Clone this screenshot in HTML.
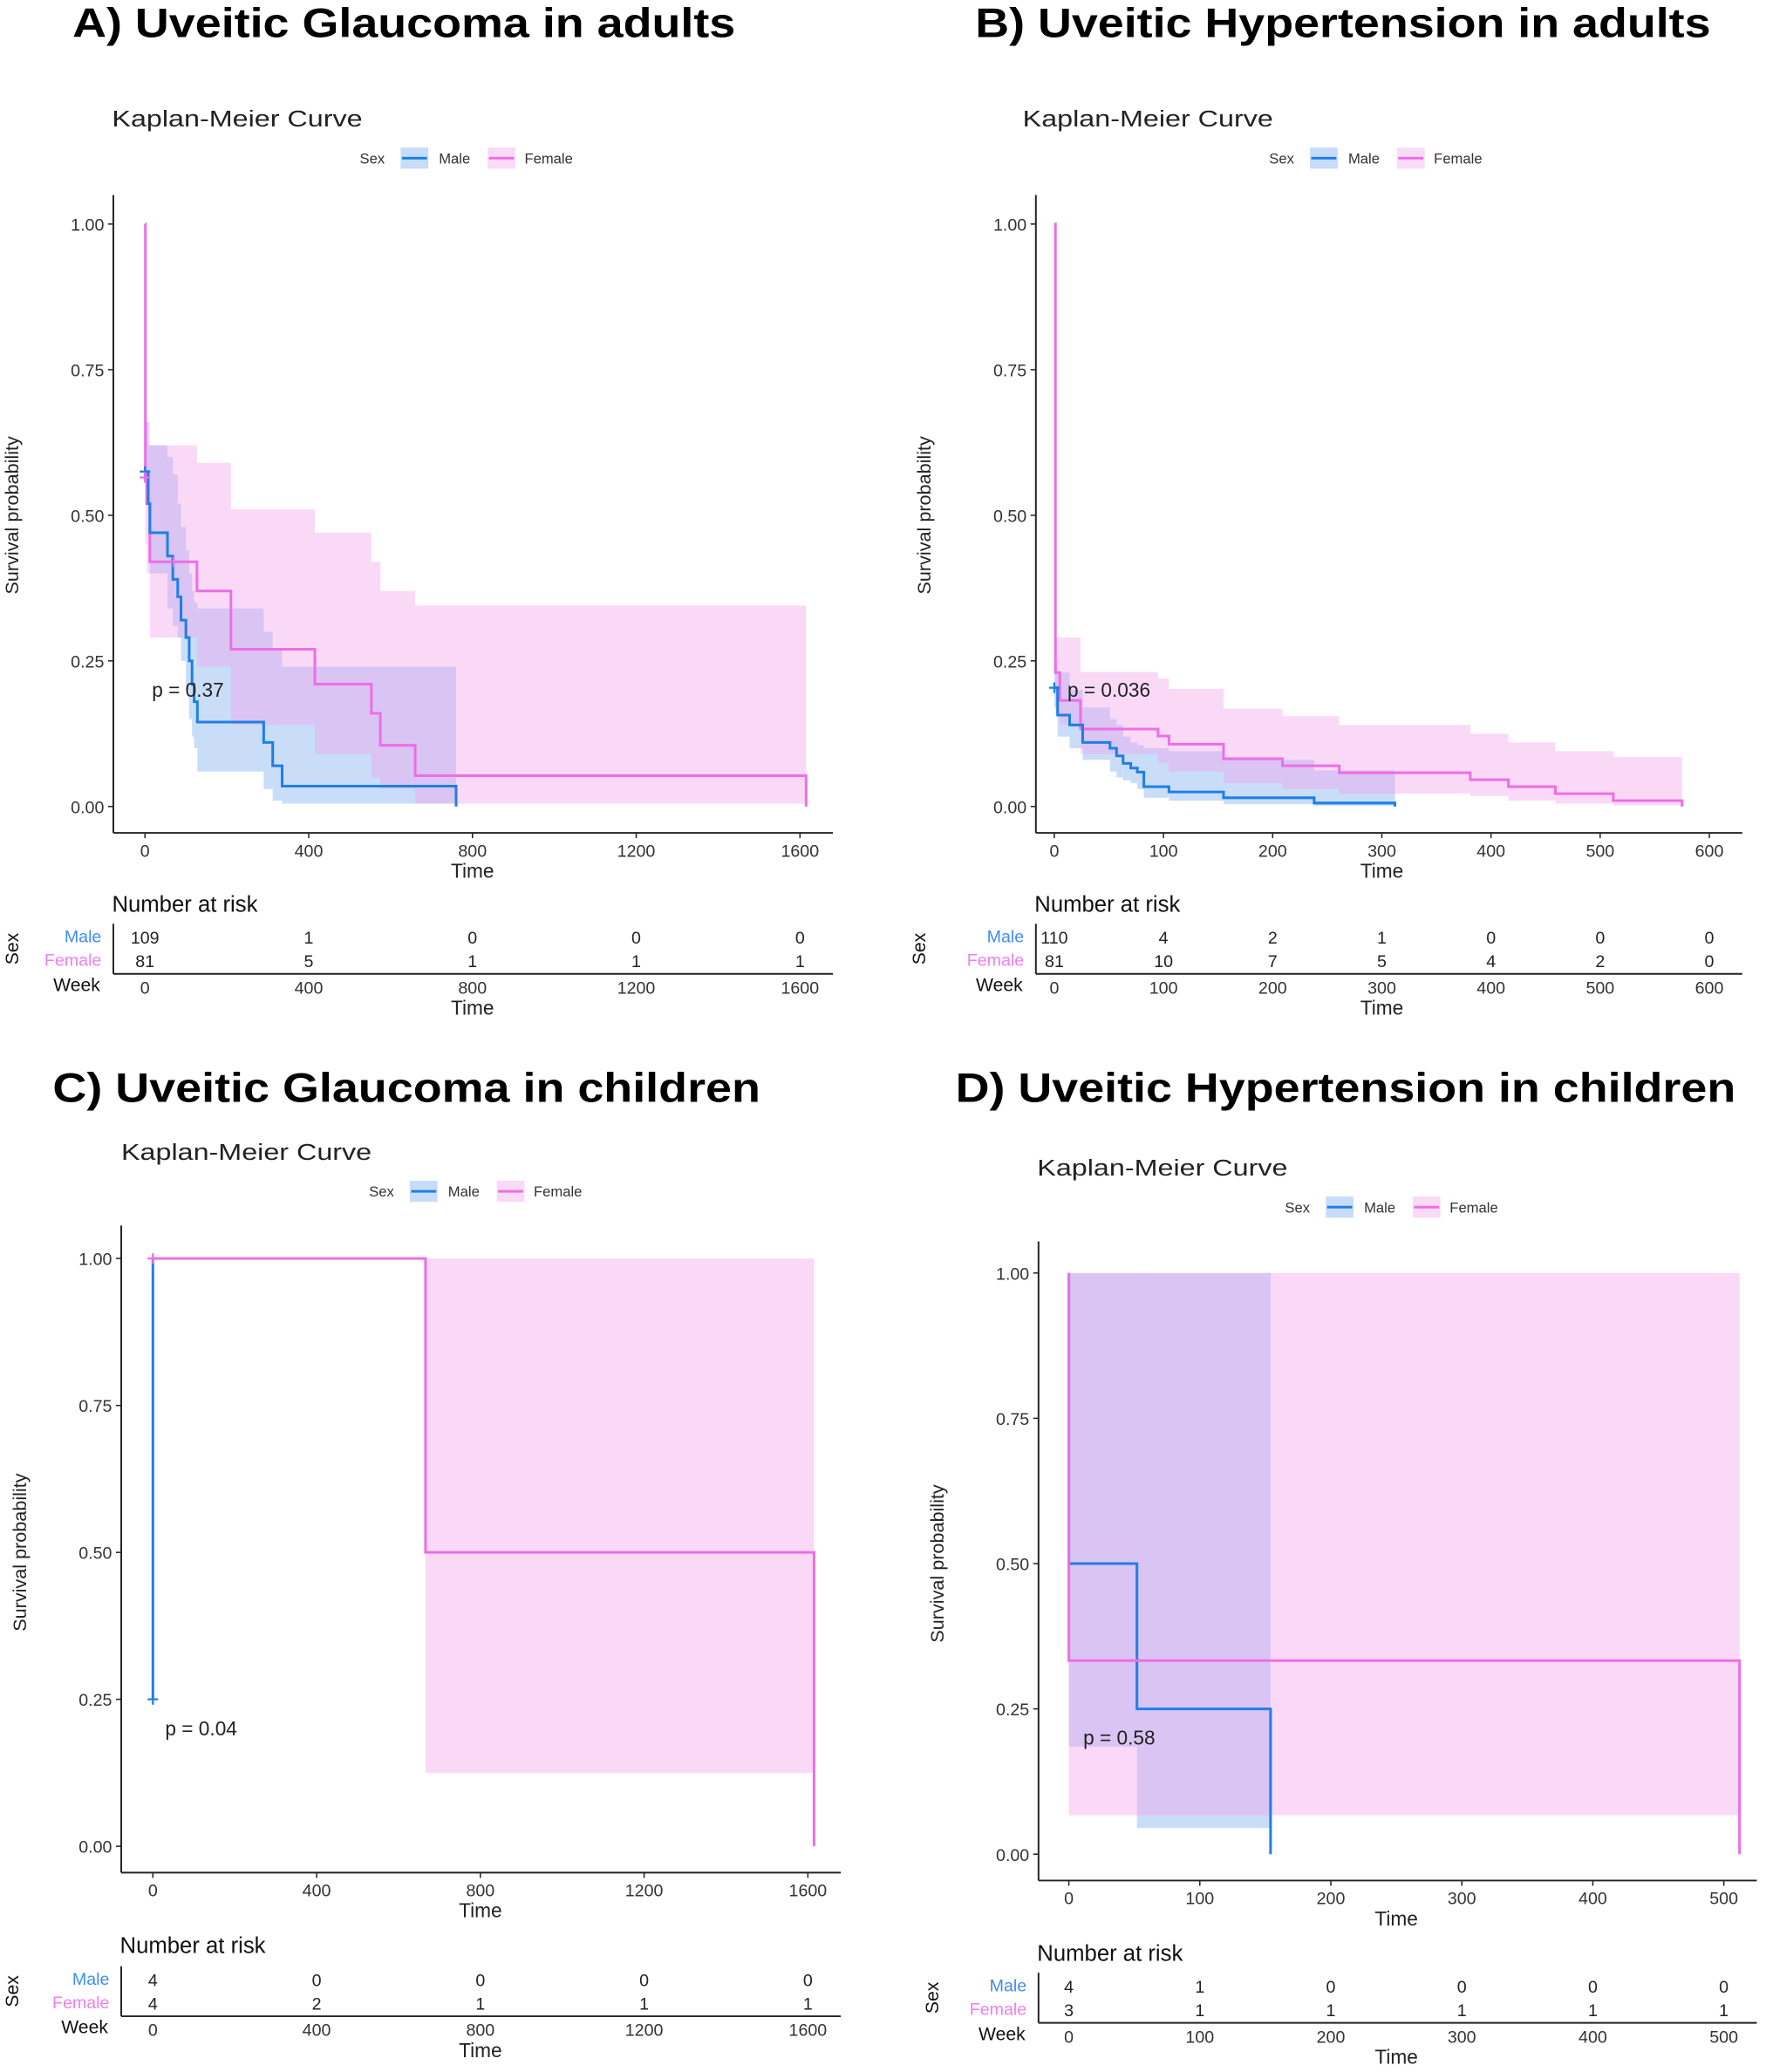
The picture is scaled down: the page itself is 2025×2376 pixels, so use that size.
<!DOCTYPE html>
<html><head><meta charset="utf-8">
<style>
html,body{margin:0;padding:0;background:#fff;}
svg{display:block;}
text{font-family:"Liberation Sans",Arial,sans-serif;}
</style></head>
<body>
<svg id="fig" width="2025" height="2376" viewBox="0 0 1340 1572.3" preserveAspectRatio="none" xmlns="http://www.w3.org/2000/svg">
<rect width="1340" height="1573" fill="#fff"/>
</svg>
<script>
// ---------- Panel A data ----------
const aMaleT = [0,8,12,55,68,80,88,100,108,115,120,128,290,312,335,760];
const aMaleS = [0.575,0.52,0.47,0.43,0.39,0.36,0.32,0.29,0.25,0.21,0.18,0.145,0.11,0.07,0.035,0];
const aMaleBandT = [0,8,12,55,68,80,88,100,108,115,120,128,290,312,335,760];
const aMaleU = [0.66,0.62,0.62,0.60,0.57,0.52,0.48,0.44,0.40,0.37,0.35,0.34,0.30,0.27,0.24];
const aMaleL = [0.52,0.45,0.40,0.34,0.31,0.29,0.25,0.20,0.15,0.12,0.10,0.06,0.03,0.01,0.005];
const aFemT = [0,1,5,12,127,210,415,553,575,660,1615];
const aFemS = [1,0.57,0.52,0.42,0.37,0.27,0.21,0.16,0.105,0.053,0];
const aFemBandT = [1,5,12,55,127,210,415,553,575,660,1615];
const aFemU = [0.67,0.66,0.62,0.62,0.59,0.51,0.47,0.42,0.37,0.345];
const aFemL = [0.45,0.40,0.29,0.29,0.24,0.14,0.09,0.05,0.03,0.005];
const aCensorMale = [[0,0.575]];
const aCensorFem = [[0,0.565],[70,0.42]];
const aTicks = [0,400,800,1200,1600];
const aRiskMale = [109,1,0,0,0];
const aRiskFem = [81,5,1,1,1];
// ---------- Panel B data ----------
const bMaleT = [0,3,14,26,51,57,63,70,76,82,105,155,238,312];
const bMaleS = [0.204,0.157,0.14,0.11,0.10,0.087,0.074,0.066,0.059,0.034,0.025,0.015,0.006,0];
const bMaleBandT = [0,3,14,26,51,57,63,70,76,82,105,155,238,312];
const bMaleU = [0.25,0.23,0.2,0.17,0.15,0.14,0.12,0.11,0.105,0.10,0.095,0.08,0.062];
const bMaleL = [0.17,0.12,0.10,0.08,0.06,0.05,0.045,0.04,0.03,0.015,0.01,0.004,0.001];
const bFemT = [0,1,5,24,95,105,155,209,261,381,416,459,512,575];
const bFemS = [1,0.23,0.182,0.133,0.121,0.107,0.082,0.070,0.058,0.046,0.034,0.022,0.010,0];
const bFemBandT = [1,5,24,95,105,155,209,261,381,416,459,512,575];
const bFemU = [0.29,0.29,0.231,0.22,0.202,0.168,0.155,0.14,0.125,0.11,0.095,0.085];
const bFemL = [0.16,0.14,0.09,0.075,0.06,0.04,0.03,0.022,0.018,0.01,0.005,0.002];
const bCensorMale = [[0,0.204]];
const bCensorFem = [];
const bTicks = [0,100,200,300,400,500,600];
const bRiskMale = [110,4,2,1,0,0,0];
const bRiskFem = [81,10,7,5,4,2,0];
// ---------- Panel C data ----------
const cMaleT = [0,0];
const cMaleS = [1,0.25];
const cMaleBandT = [];
const cMaleU = [];
const cMaleL = [];
const cFemT = [0,666,1615];
const cFemS = [1,0.5,0];
const cFemBandT = [666,1615];
const cFemU = [1];
const cFemL = [0.125];
const cCensorMale = [[0,0.25]];
const cCensorFem = [[0,1]];
const cTicks = [0,400,800,1200,1600];
const cRiskMale = [4,0,0,0,0];
const cRiskFem = [4,2,1,1,1];
// ---------- Panel D data ----------
const dMaleT = [0,0,52,154];
const dMaleS = [1,0.5,0.25,0];
const dMaleBandT = [0,52,154];
const dMaleU = [1,1];
const dMaleL = [0.185,0.045];
const dFemT = [0,0,512];
const dFemS = [1,0.333,0];
const dFemBandT = [0,512];
const dFemU = [1];
const dFemL = [0.067];
const dCensorMale = [];
const dCensorFem = [];
const dTicks = [0,100,200,300,400,500];
const dRiskMale = [4,1,0,0,0,0];
const dRiskFem = [3,1,1,1,1,1];
const yTicks = [0,0.25,0.5,0.75,1];
const yTickLabels = ["0.00","0.25","0.50","0.75","1.00"];

const NS = "http://www.w3.org/2000/svg";
const svg = document.getElementById('fig');
const BLUE = "#1f7fe6", PINK = "#ee6ee6";
function mk(tag, attrs, parent, txt){
  const e = document.createElementNS(NS, tag);
  for (const k in attrs) e.setAttribute(k, attrs[k]);
  if (txt !== undefined) e.textContent = txt;
  (parent||svg).appendChild(e);
  return e;
}

function panel(P){
  const g = mk('g', {});
  
  
  const X = t => P.xp0 + (t / P.xTickMax) * (P.xp1 - P.xp0);
  const Y = s => P.y0 + s * (P.y1 - P.y0);
  const tt = mk('text', {x:P.titleX, y:P.titleY, 'font-size':31, 'font-weight':'bold', textLength:P.titleW, lengthAdjust:'spacingAndGlyphs'}, g, P.title);
  
  
  const km = mk('text', {x:P.kmX, y:P.kmY, 'font-size':17, textLength:190, lengthAdjust:'spacingAndGlyphs', fill:'#222'}, g, 'Kaplan-Meier Curve');
  
  
  const lg = mk('g', {}, g);
  
  
  const lx = P.legX, ly = P.legY;
  mk('text', {x:lx, y:ly+4, 'font-size':11, fill:'#333'}, lg, 'Sex');
  mk('rect', {x:lx+31, y:ly-8, width:21, height:16, fill:'#c6dcf8'}, lg);
  mk('line', {x1:lx+32, x2:lx+51, y1:ly, y2:ly, stroke:BLUE, 'stroke-width':2}, lg);
  const m1 = mk('text', {x:lx+60, y:ly+4, 'font-size':11, fill:'#333'}, lg, 'Male');
  
  
  mk('rect', {x:lx+97, y:ly-8, width:21, height:16, fill:'#fadaf7'}, lg);
  mk('line', {x1:lx+98, x2:lx+117, y1:ly, y2:ly, stroke:PINK, 'stroke-width':2}, lg);
  const f1 = mk('text', {x:lx+125, y:ly+4, 'font-size':11, fill:'#333'}, lg, 'Female');
  
  
  function band(T, U, L, fill, nm){
    for (let i = 0; i < U.length; i++){
      const r = mk('rect', {x:X(T[i]), y:Y(U[i]), width:Math.max(0.5, X(T[i+1]) - X(T[i])), height:Y(L[i]) - Y(U[i]), fill:fill}, g);
      
      
    }
  }
  band(P.mBT, P.mU, P.mL, 'rgba(120,170,240,0.40)', 'male-ci-band');
  band(P.fBT, P.fU, P.fL, 'rgba(242,160,236,0.40)', 'female-ci-band');
  function curve(T, S, col, nm){
    let d = 'M' + X(T[0]) + ' ' + Y(S[0]);
    for (let i = 1; i < T.length; i++) d += ' H' + X(T[i]) + ' V' + Y(S[i]);
    const p = mk('path', {d:d, fill:'none', stroke:col, 'stroke-width':2}, g);
    
    
  }
  if (P.femaleOnTop){
    curve(P.mT, P.mS, BLUE, 'male-survival-curve');
    curve(P.fT, P.fS, PINK, 'female-survival-curve');
  } else {
    curve(P.fT, P.fS, PINK, 'female-survival-curve');
    curve(P.mT, P.mS, BLUE, 'male-survival-curve');
  }
  function censor(C, col){
    C.forEach(c => {
      const cx = X(c[0]), cy = Y(c[1]);
      const cm = mk('path', {d:`M${cx-4} ${cy} H${cx+4} M${cx} ${cy-4} V${cy+4}`, stroke:col, 'stroke-width':1.5}, g);
      
      
    });
  }
  censor(P.mC, BLUE); censor(P.fC, PINK);
  mk('line', {x1:P.axL, x2:P.axL, y1:P.plotTop, y2:P.axB, stroke:'#222', 'stroke-width':1.3}, g);
  mk('line', {x1:P.axL, x2:P.axR, y1:P.axB, y2:P.axB, stroke:'#222', 'stroke-width':1.3}, g);
  yTicks.forEach((v, i) => {
    mk('line', {x1:P.axL-4, x2:P.axL, y1:Y(v), y2:Y(v), stroke:'#222'}, g);
    const t = mk('text', {x:P.axL-7, y:Y(v)+5, 'font-size':13, 'text-anchor':'end', fill:'#333'}, g, yTickLabels[i]);
    
    
  });
  P.ticks.forEach(v => {
    mk('line', {x1:X(v), x2:X(v), y1:P.axB, y2:P.axB+4, stroke:'#222'}, g);
    const t = mk('text', {x:X(v), y:P.axB+18, 'font-size':13, 'text-anchor':'middle', fill:'#333'}, g, String(v));
    
    
  });
  const xt = mk('text', {x:(P.xp0+P.xp1)/2, y:P.axB+34, 'font-size':15, 'text-anchor':'middle', fill:'#222'}, g, 'Time');
  
  
  const yc = (P.y0+P.y1)/2;
  const yt = mk('text', {x:0, y:0, 'font-size':14, 'text-anchor':'middle', fill:'#222', transform:`translate(${P.ylabX},${yc}) rotate(-90)`, textLength:120, lengthAdjust:'spacingAndGlyphs'}, g, 'Survival probability');
  
  
  const pv = mk('text', {x:X(P.pT), y:Y(P.pS)+5, 'font-size':15, fill:'#222'}, g, P.pLabel);
  
  
  const rt = mk('g', {}, g);
  
  
  mk('text', {x:P.axL-1, y:P.rHead, 'font-size':17, fill:'#111'}, rt, 'Number at risk');
  const rm = P.rRow1, rf = P.rRow2;
  mk('line', {x1:P.axL, x2:P.axL, y1:rm-10, y2:P.rAx, stroke:'#222', 'stroke-width':1.3}, rt);
  mk('line', {x1:P.axL, x2:P.axR, y1:P.rAx, y2:P.rAx, stroke:'#222', 'stroke-width':1.3}, rt);
  mk('text', {x:P.axL-9, y:rm+4, 'font-size':13, 'text-anchor':'end', fill:'#3d8ef0'}, rt, 'Male');
  mk('text', {x:P.axL-9, y:rf+4, 'font-size':13, 'text-anchor':'end', fill:'#f07ef0'}, rt, 'Female');
  mk('text', {x:P.axL-10, y:P.rAx+13, 'font-size':14, 'text-anchor':'end', fill:'#111'}, rt, 'Week');
  mk('text', {x:0, y:0, 'font-size':14, 'text-anchor':'middle', fill:'#111', transform:`translate(${P.sexX},${(rm+rf)/2}) rotate(-90)`}, rt, 'Sex');
  P.ticks.forEach((v, i) => {
    const a = mk('text', {x:X(v), y:rm+5, 'font-size':13, 'text-anchor':'middle', fill:'#222'}, rt, String(P.riskM[i]));
    
    
    const b = mk('text', {x:X(v), y:rf+5, 'font-size':13, 'text-anchor':'middle', fill:'#222'}, rt, String(P.riskF[i]));
    
    
    mk('text', {x:X(v), y:P.rAx+15, 'font-size':13, 'text-anchor':'middle', fill:'#333'}, rt, String(v));
  });
  mk('text', {x:(P.xp0+P.xp1)/2, y:P.rAx+31, 'font-size':15, 'text-anchor':'middle', fill:'#222'}, rt, 'Time');
}

panel({name:'panel-a', title:'A) Uveitic Glaucoma in adults', titleX:55, titleY:28, titleW:503,
  kmX:85, kmY:96, legX:273, legY:120,
  axL:86, axR:632, plotTop:148, axB:632, y1:170, y0:612, xp0:110, xp1:607, xTickMax:1600,
  ticks:aTicks, ylabX:14, sexX:14,
  mT:aMaleT, mS:aMaleS, mBT:aMaleBandT, mU:aMaleU, mL:aMaleL, mC:aCensorMale,
  fT:aFemT, fS:aFemS, fBT:aFemBandT, fU:aFemU, fL:aFemL, fC:aCensorFem,
  pT:17, pS:0.2, pLabel:'p = 0.37',
  rHead:692, rRow1:711, rRow2:729, rAx:739, riskM:aRiskMale, riskF:aRiskFem});
panel({name:'panel-b', title:'B) Uveitic Hypertension in adults', titleX:740, titleY:28, titleW:558,
  kmX:776, kmY:96, legX:963, legY:120,
  axL:786, axR:1322, plotTop:148, axB:632, y1:170, y0:612, xp0:800, xp1:1297, xTickMax:600,
  ticks:bTicks, ylabX:706, sexX:702,
  mT:bMaleT, mS:bMaleS, mBT:bMaleBandT, mU:bMaleU, mL:bMaleL, mC:bCensorMale,
  fT:bFemT, fS:bFemS, fBT:bFemBandT, fU:bFemU, fL:bFemL, fC:bCensorFem,
  pT:12, pS:0.2, pLabel:'p = 0.036',
  rHead:692, rRow1:711, rRow2:729, rAx:739, riskM:bRiskMale, riskF:bRiskFem});
panel({name:'panel-c', title:'C) Uveitic Glaucoma in children', titleX:40, titleY:836, titleW:537,
  kmX:92, kmY:880, legX:280, legY:904,
  axL:92, axR:638, plotTop:930, axB:1421, y1:955, y0:1401, xp0:116, xp1:613, xTickMax:1600,
  ticks:cTicks, ylabX:20, sexX:14,
  mT:cMaleT, mS:cMaleS, mBT:cMaleBandT, mU:cMaleU, mL:cMaleL, mC:cCensorMale,
  fT:cFemT, fS:cFemS, fBT:cFemBandT, fU:cFemU, fL:cFemL, fC:cCensorFem,
  pT:30, pS:0.2, pLabel:'p = 0.04',
  rHead:1482, rRow1:1502, rRow2:1520, rAx:1530, riskM:cRiskMale, riskF:cRiskFem});
panel({name:'panel-d', title:'D) Uveitic Hypertension in children', titleX:725, titleY:836, titleW:592,
  kmX:787, kmY:892, legX:975, legY:916, femaleOnTop:true,
  axL:788, axR:1333, plotTop:942, axB:1427, y1:966, y0:1407, xp0:811, xp1:1308, xTickMax:500,
  ticks:dTicks, ylabX:716, sexX:712,
  mT:dMaleT, mS:dMaleS, mBT:dMaleBandT, mU:dMaleU, mL:dMaleL, mC:dCensorMale,
  fT:dFemT, fS:dFemS, fBT:dFemBandT, fU:dFemU, fL:dFemL, fC:dCensorFem,
  pT:11, pS:0.2, pLabel:'p = 0.58',
  rHead:1488, rRow1:1507, rRow2:1525, rAx:1535, riskM:dRiskMale, riskF:dRiskFem});
</script>
</body></html>
